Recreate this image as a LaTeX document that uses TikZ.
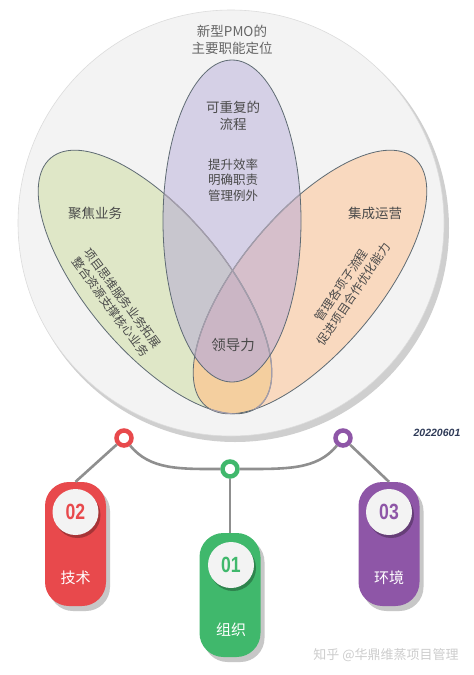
\documentclass[tikz,border=0pt]{standalone}
\usepackage{fontspec}
\setmainfont{Noto Sans CJK SC}
\newfontfamily\numfont[FakeStretch=0.8]{Liberation Sans}
\newfontfamily\datefont{Liberation Sans}
\usepackage{tikz}
\usetikzlibrary{shadows}
\definecolor{rimGray}{HTML}{CFCFCF}
\definecolor{discFill}{HTML}{F3F3F3}
\definecolor{discEdge}{HTML}{DCDCDC}
\definecolor{leafInk}{HTML}{5F6B73}
\definecolor{leafSoft}{HTML}{A39DAB}
\definecolor{greenLeaf}{HTML}{DFE7C7}
\definecolor{orangeLeaf}{HTML}{F9D9BF}
\definecolor{purpleLeaf}{HTML}{D5D0E6}
\definecolor{lensFill}{HTML}{F4CF9F}
\definecolor{greyOverlap}{HTML}{C8C6CE}
\definecolor{mauveOverlap}{HTML}{D6BFCB}
\definecolor{coreFill}{HTML}{CBB6C5}
\definecolor{inkText}{HTML}{4A4A4A}
\definecolor{redTag}{HTML}{E8494C}
\definecolor{greenTag}{HTML}{40B86C}
\definecolor{purpleTag}{HTML}{8E56A7}
\definecolor{wireGray}{HTML}{8F8F8F}
\definecolor{dateInk}{HTML}{2F3B58}
\definecolor{markGray}{HTML}{CDCDCD}
\tikzset{
  leafG/.style={rotate around={-50:(155,282)}},
  leafO/.style={rotate around={50:(310,282)}},
  petalEdge/.style={draw=leafInk, line width=0.8pt},
  softEdge/.style={draw=leafSoft, line width=1.2pt},
  leafText/.style={text=inkText, align=center, font=\fontsize{13.5}{17}\selectfont},
  noteText/.style={text=inkText, align=center, font=\fontsize{12}{15}\selectfont},
  ringDot/.style={circle, draw=#1, line width=4.5pt, fill=white, inner sep=0pt, minimum size=15pt},
  wire/.style={draw=wireGray, line width=2.6pt},
  pillBox/.style={rectangle, rounded corners=24pt, minimum width=61pt, minimum height=124pt,
    inner sep=0pt, fill=#1, drop shadow={shadow xshift=4pt, shadow yshift=-5pt, fill=black!22, opacity=1}},
  numDisc/.style={circle, fill=discFill, minimum size=46pt, inner sep=0pt, text=#1,
    font=\numfont\bfseries\fontsize{22}{22}\selectfont,
    drop shadow={shadow xshift=2pt, shadow yshift=-3pt, fill=black, opacity=0.28}},
  pillLabel/.style={text=white, font=\fontsize{15}{15}\selectfont}
}
\begin{document}
\begin{tikzpicture}[x=1pt, y=-1pt]
  \fill[white] (0,0) rectangle (474,675);
  \useasboundingbox (0,0) rectangle (474,675);

  \fill[rimGray] (235,228) circle (214pt);
  \filldraw[fill=discFill, draw=discEdge, line width=0.6pt] (231,223) circle (213pt);

  \fill[greenLeaf, leafG] (155,282) ellipse [x radius=162pt, y radius=69pt];
  \fill[orangeLeaf, leafO] (310,282) ellipse [x radius=162pt, y radius=69pt];
  \begin{scope}
    \clip[leafG] (155,282) ellipse [x radius=162pt, y radius=69pt];
    \fill[lensFill, leafO] (310,282) ellipse [x radius=162pt, y radius=69pt];
  \end{scope}
  \fill[purpleLeaf] (232,221) ellipse [x radius=69pt, y radius=161pt];
  \begin{scope}
    \clip (232,221) ellipse [x radius=69pt, y radius=161pt];
    \fill[greyOverlap, leafG] (155,282) ellipse [x radius=162pt, y radius=69pt];
    \fill[mauveOverlap, leafO] (310,282) ellipse [x radius=162pt, y radius=69pt];
    \begin{scope}
      \clip[leafG] (155,282) ellipse [x radius=162pt, y radius=69pt];
      \fill[coreFill, leafO] (310,282) ellipse [x radius=162pt, y radius=69pt];
    \end{scope}
  \end{scope}

  \draw[petalEdge, leafG] (155,282) ellipse [x radius=162pt, y radius=69pt];
  \draw[petalEdge, leafO] (310,282) ellipse [x radius=162pt, y radius=69pt];
  \begin{scope}
    \clip[leafO] (310,282) ellipse [x radius=162pt, y radius=69pt];
    \draw[softEdge, leafG] (155,282) ellipse [x radius=162pt, y radius=69pt];
  \end{scope}
  \begin{scope}
    \clip (232,221) ellipse [x radius=69pt, y radius=161pt];
    \draw[softEdge, leafG] (155,282) ellipse [x radius=162pt, y radius=69pt];
    \draw[softEdge, leafO] (310,282) ellipse [x radius=162pt, y radius=69pt];
  \end{scope}
  \draw[petalEdge] (232,221) ellipse [x radius=69pt, y radius=161pt];

  \node[leafText, text=inkText!85] (title) at (232,40) {新型PMO的\\主要职能定位};
  \node[leafText] (repeatable) at (233,116) {可重复的\\流程};
  \node[leafText, font=\fontsize{12.5}{15.5}\selectfont] (gains) at (233,180) {提升效率\\明确职责\\管理例外};
  \node[leafText] (focus) at (95,213) {聚焦业务};
  \node[leafText] (integrate) at (375,213) {集成运营};
  \node[leafText, font=\fontsize{14.5}{17}\selectfont] (lead) at (233,345) {领导力};
  \node[noteText, rotate=-53.5] (focusNote) at (116.5,302.5) {项目思维服务业务拓展\\整合资源支撑核心业务};
  \node[noteText, rotate=56] (integrateNote) at (347.5,289.5) {管理各项子流程\\促进项目合作优化能力};

  \node[pillBox=redTag] (pillTech) at (75.5,544) {};
  \node[pillBox=greenTag] (pillOrg) at (230,595) {};
  \node[pillBox=purpleTag] (pillEnv) at (389,544) {};

  \node[ringDot=redTag] (ringTech) at (124,438) {};
  \node[ringDot=greenTag] (ringOrg) at (230,469) {};
  \node[ringDot=purpleTag] (ringEnv) at (343,438) {};

  \draw[wire] (ringTech) .. controls (150,470) and (180,469) .. (ringOrg);
  \draw[wire] (ringOrg) .. controls (287,469) and (317,470) .. (ringEnv);
  \draw[wire] (ringTech) -- (pillTech.north);
  \draw[wire] (ringOrg) -- (pillOrg.north);
  \draw[wire] (ringEnv) -- (pillEnv.north);

  \node[numDisc=redTag] (numTech) at (75.5,512) {02};
  \node[numDisc=greenTag] (numOrg) at (231,565) {01};
  \node[numDisc=purpleTag] (numEnv) at (389,512) {03};
  \node[pillLabel] (labTech) at (75.5,578) {技术};
  \node[pillLabel] (labOrg) at (231,630) {组织};
  \node[pillLabel] (labEnv) at (389,578) {环境};

  \node[text=dateInk, font=\datefont\bfseries\itshape\fontsize{10.5}{10.5}\selectfont] (stamp) at (437,433) {20220601};
  \node[text=markGray, font=\fontsize{13}{13}\selectfont] (mark) at (386,655) {知乎 @华鼎维蒸项目管理};
\end{tikzpicture}
\end{document}
